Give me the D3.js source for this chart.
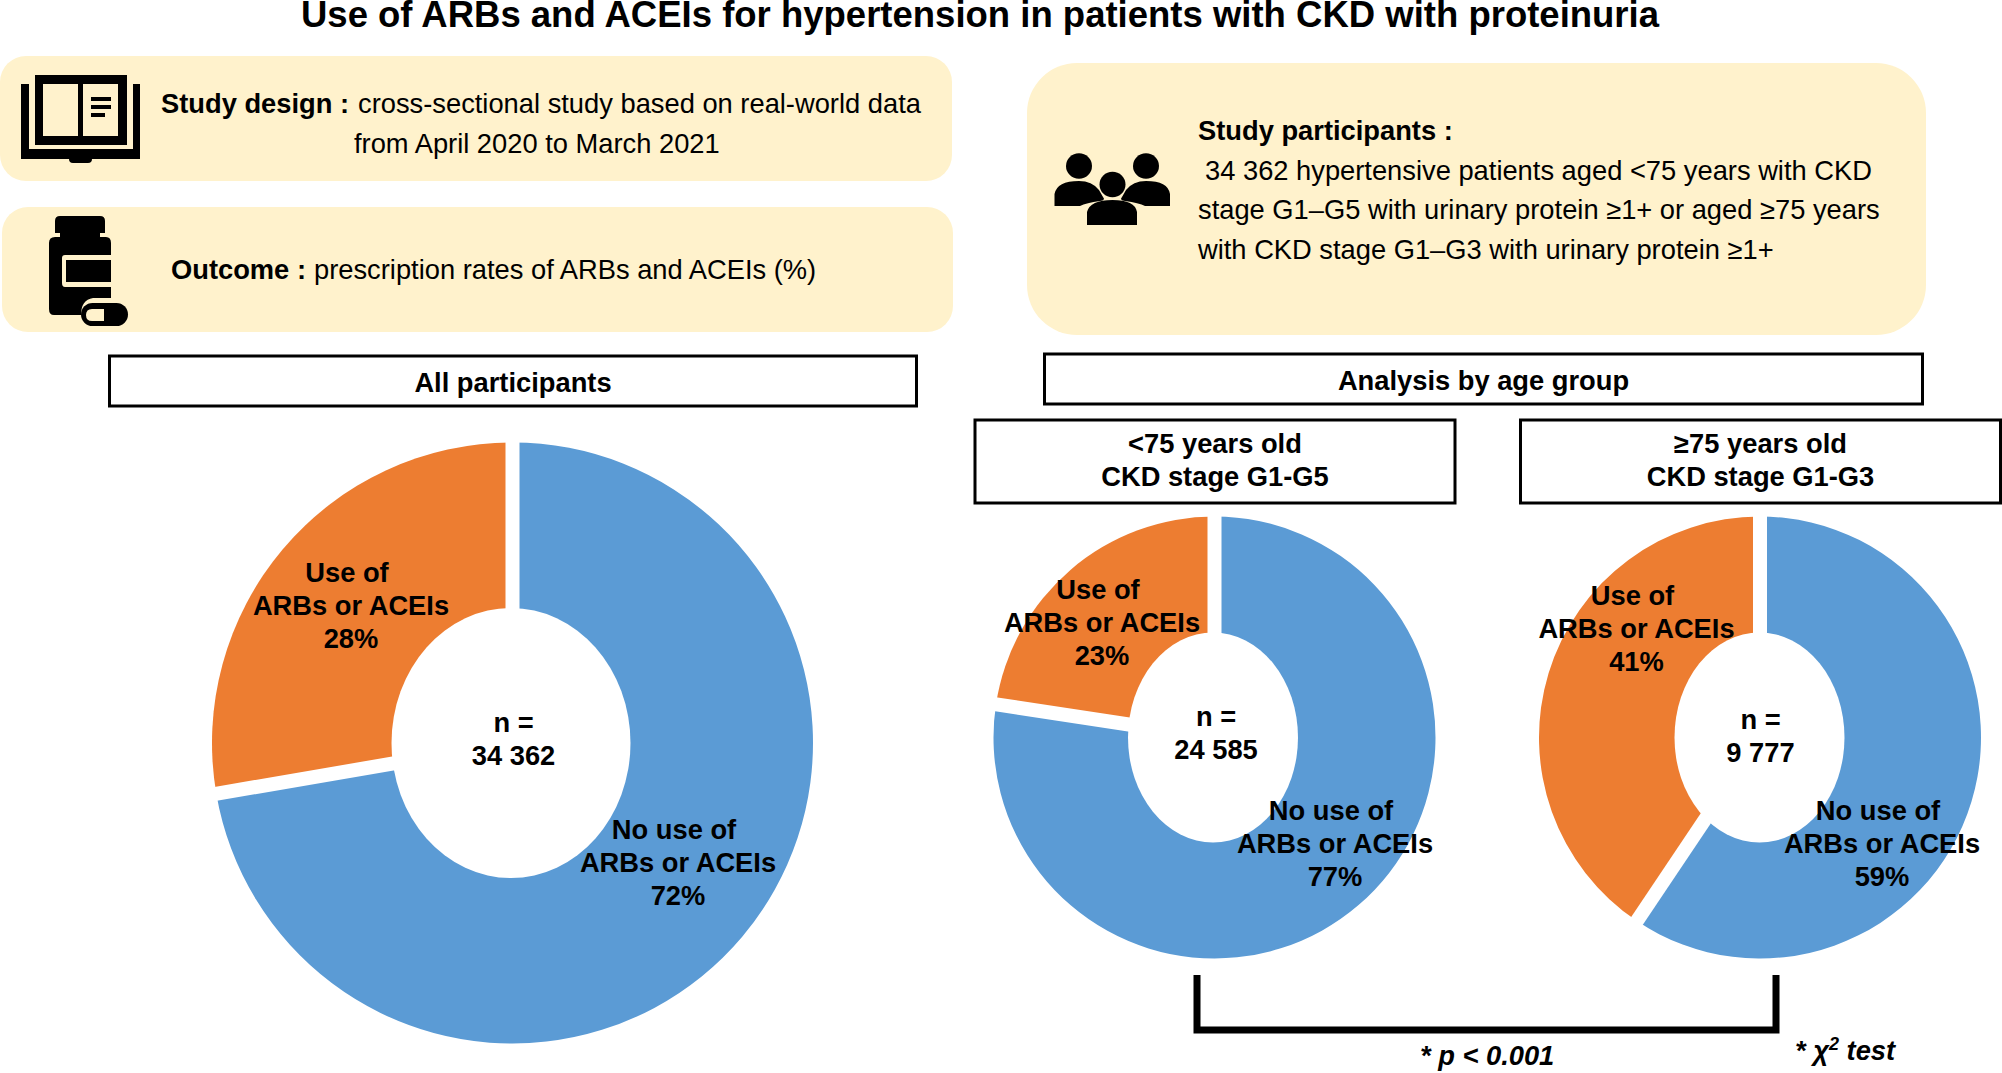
<!DOCTYPE html>
<html><head><meta charset="utf-8">
<script src="https://cdn.jsdelivr.net/npm/d3@7"></script>
<style>html,body{margin:0;padding:0;background:#fff;overflow:hidden}svg{display:block}
text{font-family:"Liberation Sans",Arial,sans-serif;fill:#000}</style></head><body>
<script>
const categories = ["No use of ARBs or ACEIs", "Use of ARBs or ACEIs"];
const allValues = [72.3, 27.7];
const youngValues = [77.4, 22.6];
const oldValues = [59.4, 40.6];
const nLabels = ["34 362", "24 585", "9 777"];
const colors = ["#5B9BD5", "#ED7D31"];
const W = 2002, H = 1073;
const FS = 27.3;
const svg = d3.select("body").append("svg").attr("width", W).attr("height", H);

function txt(x, y, s, o = {}) {
  return svg.append("text").attr("x", x).attr("y", y).text(s)
    .attr("font-size", o.size || FS).attr("font-weight", o.bold ? 700 : 400)
    .attr("font-style", o.italic ? "italic" : "normal")
    .attr("text-anchor", o.anchor || "start").attr("xml:space", "preserve");
}
txt(980, 27, "Use of ARBs and ACEIs for hypertension in patients with CKD with proteinuria", {size: 36.5, bold: true, anchor: "middle"});

// beige panels
[[0,56,952,125,26],[2,207,951,125,26],[1027,63,899,272,50]].forEach(b =>
  svg.append("rect").attr("x",b[0]).attr("y",b[1]).attr("width",b[2]).attr("height",b[3]).attr("rx",b[4]).attr("fill","#FFF2CC"));

// panel text
txt(161, 113, "Study design :", {bold: true});
txt(358, 113, "cross-sectional study based on real-world data");
txt(354, 153, "from April 2020 to March 2021");
txt(171, 279, "Outcome :", {bold: true});
txt(314, 279, "prescription rates of ARBs and ACEIs (%)");
txt(1198, 140, "Study participants :", {bold: true});
txt(1205, 180, "34 362 hypertensive patients aged <75 years with CKD");
txt(1198, 219, "stage G1–G5 with urinary protein ≥1+ or aged ≥75 years");
txt(1198, 259, "with CKD stage G1–G3 with urinary protein ≥1+");

// book icon
const book = svg.append("g").attr("fill","#000");
book.append("path").attr("fill-rule","evenodd").attr("d",
 "M35 75H127V145H35Z M43 84V136H78V84Z M83 84V136H118V84Z");
book.append("path").attr("d",
 "M21 84H29V149H133V84H140V159H92Q92 163 88 163H73Q69 163 69 159H21Z");
book.append("path").attr("d","M91 97H111V101H91Z M91 105H111V109H91Z M91 113H105V117H91Z");

// bottle icon
const bot = svg.append("g").attr("fill","#000");
bot.append("path").attr("d",
 "M60 216H100Q105 216 105 221V233H100V237H60V233H55V221Q55 216 60 216Z");
bot.append("path").attr("d",
 "M55 237H106Q111 237 111 243V298H93Q81 300 81 315H54Q49 315 49 309V243Q49 237 55 237Z");
bot.append("path").attr("fill","#FFF2CC").attr("d","M65 255H111V287H65Q62 287 62 283V258Q62 255 65 255Z");
bot.append("path").attr("d","M66 260H111V282H66Z");
bot.append("rect").attr("x",81).attr("y",303).attr("width",47).attr("height",23).attr("rx",11.5);
bot.append("path").attr("fill","#FFF2CC").attr("d","M104 309H92Q86 309 86 315Q86 321 92 321H104Z");

// people icon
const ppl = svg.append("g").attr("fill","#000");
[[1079,166],[1146,166],[1112.5,184.5]].forEach(c =>
  ppl.append("ellipse").attr("cx",c[0]).attr("cy",c[1]).attr("rx",13).attr("ry",12.8));
ppl.append("path").attr("d","M1054.5 206V194Q1057 181 1079 181Q1092 181 1099 190L1103 197Q1106 200 1100 201Q1086 203 1080 206Z");
ppl.append("path").attr("d","M1170 206V194Q1168 181 1146 181Q1133 181 1126 190L1122 197Q1119 200 1125 201Q1139 203 1145 206Z");
ppl.append("path").attr("d","M1087 225V212Q1090 200 1112.5 200Q1135 200 1137 212V225Z");

// header boxes
function box(x, y, w, h, lines) {
  svg.append("rect").attr("x",x).attr("y",y).attr("width",w).attr("height",h)
    .attr("fill","#fff").attr("stroke","#000").attr("stroke-width",3);
  lines.forEach((l,i) => txt(x+w/2, y+ (lines.length===1 ? 36 : 33 + i*33), l, {bold:true, anchor:"middle"}));
}
box(109.5, 356, 807, 50, ["All participants"]);
box(1044.5, 354, 878, 50, ["Analysis by age group"]);
box(975, 420, 480, 83, ["<75 years old", "CKD stage G1-G5"]);
box(1520.5, 420, 480, 83, ["≥75 years old", "CKD stage G1-G3"]);

// donuts
const pie = d3.pie().sort(null);
const pct = d3.format(".0f");
function donut(values, cx, cy, R, hx, rx, ry, n, nXY, useXY, noXY) {
  const g = svg.append("g").attr("transform",`translate(${cx},${cy})`);
  const arc = d3.arc().innerRadius(0).outerRadius(R);
  const arcs = pie(values);
  g.selectAll("path").data(arcs).join("path")
    .attr("d", arc).attr("fill",(d,i)=>colors[i]);
  g.selectAll("line").data(arcs).join("line")
    .attr("x1",0).attr("y1",0)
    .attr("x2",d=>(R+8)*Math.sin(d.startAngle)).attr("y2",d=>-(R+8)*Math.cos(d.startAngle))
    .attr("stroke","#fff").attr("stroke-width",14);
  g.append("ellipse").attr("cx",hx-cx).attr("rx",rx).attr("ry",ry).attr("fill","#fff");
  txt(nXY[0], nXY[1], "n =", {bold:true, anchor:"middle"});
  txt(nXY[0], nXY[1]+33, n, {bold:true, anchor:"middle"});
  const L = 32.8, first = -4;
  ["Use of","ARBs or ACEIs",pct(values[1])+"%"].forEach((s,i)=>txt(useXY[0]+(i?0:first),useXY[1]+i*L,s,{bold:true,anchor:"middle"}));
  ["No use of","ARBs or ACEIs",pct(values[0])+"%"].forEach((s,i)=>txt(noXY[0]+(i?0:first),noXY[1]+i*L,s,{bold:true,anchor:"middle"}));
}
donut(allValues, 512.5, 743, 300.5, 511, 119.5, 135, nLabels[0], [513.5,732], [351,582], [678,839]);
donut(youngValues, 1214.5, 737.5, 221, 1213, 85, 105, nLabels[1], [1216,725.5], [1102,599], [1335,820]);
donut(oldValues, 1760, 737.5, 221, 1759.5, 85, 105, nLabels[2], [1760.5,729], [1636.5,605], [1882,820]);

// bracket
svg.append("path").attr("d","M1197 975V1030H1776V975").attr("fill","none").attr("stroke","#000").attr("stroke-width",7);
txt(1420, 1065, "* p < 0.001", {bold:true, italic:true});
const chi = txt(1795, 1060, "* χ", {bold:true, italic:true});
chi.append("tspan").text("2").attr("font-size",18).attr("dy",-10);
chi.append("tspan").text(" test").attr("dy",10);
</script></body></html>
